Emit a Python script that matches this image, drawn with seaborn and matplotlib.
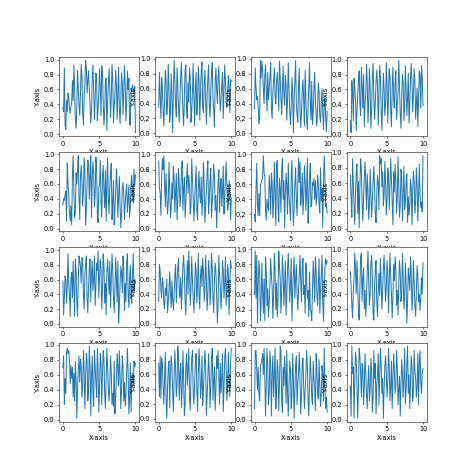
import matplotlib
matplotlib.use("Agg")
import matplotlib.pyplot as plt
import numpy as np
import seaborn as sns

# values, one list per panel (row by row)
y_r0c0 = [0.35,0.30,0.89,0.12,0.06,0.45,0.30,0.55,0.48,0.33,0.28,0.38,0.42,0.72,0.45,0.93,0.62,0.20,0.08,0.35,
          0.85,0.62,0.40,0.25,0.55,0.94,0.78,0.30,0.12,0.48,0.68,0.99,0.90,0.55,0.72,0.85,0.62,0.40,0.15,0.30,
          0.72,0.93,0.58,0.20,0.45,0.82,0.76,0.18,0.35,0.55,0.88,0.62,0.25,0.92,0.80,0.45,0.12,0.30,0.70,0.75,
          0.05,0.42,0.68,0.88,0.60,0.22,0.50,0.94,0.72,0.15,0.38,0.55,0.86,0.66,0.20,0.58,0.90,0.35,0.14,0.48,
          0.82,0.70,0.26,0.55,0.92,0.64,0.18,0.40,0.85,0.60,0.75,0.13,0.12,0.62,0.58,0.66,0.60,0.55,0.64,0.02]
y_r0c1 = [0.35,0.82,0.48,0.20,0.75,0.62,0.30,0.10,0.45,0.85,0.70,0.25,0.40,0.93,0.60,0.15,0.30,0.80,0.52,0.01,
          0.55,0.98,0.72,0.40,0.22,0.88,0.65,0.35,0.15,0.45,0.78,0.95,0.60,0.28,0.10,0.50,0.85,0.92,0.32,0.20,
          0.68,0.42,0.88,0.75,0.15,0.30,0.55,0.94,0.48,0.10,0.62,0.82,0.25,0.40,0.90,0.70,0.18,0.55,0.86,0.96,
          0.35,0.28,0.66,0.85,0.45,0.12,0.50,0.74,0.92,0.38,0.22,0.60,0.80,0.95,0.45,0.32,0.08,0.70,0.88,0.58,
          0.40,0.75,0.90,0.52,0.30,0.48,0.65,0.82,0.20,0.58,0.92,0.70,0.42,0.35,0.55,0.78,0.60,0.28,0.72,0.70]
y_r0c2 = [0.33,0.88,0.62,0.45,0.50,0.35,0.12,0.20,0.98,0.75,0.97,0.85,0.60,0.40,0.78,0.92,0.55,0.30,0.82,0.45,
          0.60,0.75,0.95,0.35,0.20,0.55,0.72,0.88,0.50,0.40,0.70,0.82,0.62,0.30,0.97,0.75,0.48,0.25,0.58,0.90,
          0.52,0.38,0.78,0.66,0.18,0.45,0.95,0.60,0.30,0.12,0.35,0.75,0.55,0.01,0.48,0.70,0.98,0.40,0.25,0.15,
          0.62,0.88,0.32,0.08,0.28,0.55,0.72,0.45,0.10,0.85,0.50,0.20,0.05,0.35,0.62,0.95,0.40,0.18,0.70,0.12,
          0.30,0.58,0.82,0.45,0.25,0.10,0.38,0.68,0.55,0.22,0.15,0.42,0.60,0.30,0.05,0.36,0.50,0.22,0.02,0.30]
y_r0c3 = [0.18,0.02,0.72,0.55,0.18,0.75,0.62,0.45,0.05,0.30,0.52,0.70,0.85,0.40,0.25,0.90,0.65,0.35,0.80,0.10,
          0.38,0.55,0.94,0.72,0.15,0.45,0.88,0.60,0.08,0.32,0.78,0.95,0.50,0.20,0.42,0.70,0.86,0.65,0.12,0.55,
          0.92,0.75,0.30,0.05,0.48,0.82,0.60,0.25,0.40,0.96,0.68,0.15,0.52,0.88,0.78,0.30,0.10,0.62,0.90,0.45,
          0.35,0.72,0.85,0.20,0.40,0.55,0.99,0.65,0.28,0.08,0.48,0.80,0.70,0.18,0.38,0.92,0.60,0.25,0.50,0.82,
          0.15,0.42,0.75,0.95,0.68,0.30,0.55,0.88,0.72,0.20,0.40,0.62,0.10,0.48,0.85,0.80,0.35,0.92,0.75,0.38]
y_r1c0 = [0.32,0.40,0.38,0.45,0.50,0.10,0.88,0.62,0.45,0.22,0.10,0.30,0.05,0.70,0.98,0.50,0.15,0.20,0.75,0.60,
          0.80,0.98,0.40,0.12,0.70,0.85,0.65,0.30,0.50,0.95,0.78,0.05,0.25,0.62,0.92,0.88,0.40,0.72,0.98,0.15,
          0.68,0.90,0.75,0.30,0.45,0.96,0.82,0.20,0.08,0.55,0.60,0.92,0.35,0.15,0.70,0.85,0.50,0.28,0.78,0.10,
          0.62,0.95,0.40,0.20,0.55,0.72,0.88,0.12,0.35,0.65,0.05,0.25,0.48,0.80,0.58,0.15,0.42,0.70,0.30,0.01,
          0.20,0.55,0.62,0.45,0.12,0.35,0.50,0.60,0.22,0.40,0.58,0.15,0.30,0.62,0.72,0.45,0.35,0.80,0.58,0.72]
y_r1c1 = [0.92,0.55,0.48,0.18,0.70,0.95,0.80,0.99,0.60,0.30,0.75,0.45,0.20,0.35,0.90,0.55,0.15,0.28,0.62,0.40,
          0.85,0.68,0.22,0.50,0.75,0.12,0.38,0.82,0.60,0.30,0.45,0.78,0.92,0.25,0.55,0.70,0.15,0.35,0.65,0.88,
          0.48,0.72,0.58,0.20,0.30,0.95,0.68,0.42,0.10,0.38,0.62,0.85,0.25,0.12,0.55,0.78,0.45,0.35,0.70,0.18,
          0.40,0.90,0.60,0.08,0.30,0.52,0.75,0.92,0.20,0.40,0.65,0.82,0.15,0.35,0.58,0.88,0.70,0.25,0.45,0.01,
          0.35,0.62,0.80,0.22,0.55,0.68,0.30,0.48,0.85,0.20,0.40,0.72,0.90,0.55,0.25,0.35,0.65,0.48,0.12,0.42]
y_r1c2 = [0.20,0.10,0.55,0.88,0.35,0.18,0.48,0.18,0.58,0.62,0.65,0.70,0.98,0.75,0.70,0.25,0.12,0.40,0.30,0.25,
          0.72,0.55,0.20,0.75,0.62,0.15,0.38,0.90,0.45,0.05,0.85,0.92,0.30,0.10,0.68,0.55,0.22,0.80,0.95,0.40,
          0.65,0.02,0.48,0.75,0.58,0.20,0.88,0.45,0.30,0.12,0.70,0.92,0.35,0.05,0.28,0.60,0.82,0.40,0.18,0.55,
          0.95,0.62,0.90,0.32,0.48,0.75,0.20,0.40,0.85,0.65,0.25,0.52,0.95,0.08,0.38,0.70,0.88,0.30,0.35,0.62,
          0.58,0.68,0.40,0.65,0.32,0.45,0.72,0.60,0.35,0.22,0.82,0.38,0.55,0.02,0.65,0.98,0.70,0.30,0.35,0.22]
y_r1c3 = [0.70,0.40,0.15,0.92,0.60,0.30,0.05,0.48,0.75,0.85,0.20,0.62,0.01,0.55,0.92,0.80,0.35,0.10,0.40,0.68,
          0.88,0.58,0.25,0.72,0.50,0.12,0.30,0.78,0.45,0.15,0.38,0.62,0.82,0.55,0.20,0.08,0.45,0.70,0.60,0.25,
          0.96,0.85,0.92,0.55,0.75,0.30,0.45,0.88,0.62,0.18,0.40,0.80,0.70,0.25,0.58,0.92,0.65,0.35,0.05,0.75,
          0.48,0.85,0.62,0.20,0.40,0.95,0.55,0.15,0.30,0.78,0.68,0.10,0.45,0.82,0.25,0.35,0.60,0.72,0.08,0.42,
          0.18,0.30,0.65,0.55,0.05,0.48,0.75,0.62,0.20,0.35,0.80,0.58,0.10,0.42,0.85,0.45,0.28,0.35,0.22,0.96]
y_r2c0 = [0.58,0.12,0.35,0.65,0.60,0.28,0.50,0.95,0.55,0.40,0.10,0.62,0.70,0.35,0.85,0.45,0.10,0.88,0.72,0.30,
          0.10,0.58,0.92,0.85,0.78,0.55,0.90,0.88,0.40,0.20,0.65,0.82,0.92,0.35,0.15,0.50,0.75,0.88,0.30,0.68,
          0.85,0.45,0.60,0.92,0.25,0.50,0.82,0.72,0.99,0.35,0.62,0.88,0.75,0.20,0.45,0.95,0.80,0.28,0.55,0.12,
          0.70,0.88,0.65,0.40,0.85,0.22,0.58,0.95,0.72,0.35,0.15,0.48,0.90,0.62,0.30,0.85,0.01,0.25,0.55,0.78,
          0.68,0.42,0.92,0.75,0.18,0.55,0.30,0.85,0.95,0.40,0.22,0.62,0.80,0.35,0.28,0.70,0.95,0.45,0.60,0.55]
y_r2c1 = [0.30,0.80,0.70,0.45,0.35,0.62,0.55,0.28,0.20,0.48,0.38,0.60,0.15,0.30,0.45,0.70,0.42,0.22,0.58,0.35,
          0.18,0.40,0.65,0.80,0.28,0.55,0.75,0.88,0.45,0.35,0.62,0.20,0.50,0.78,0.92,0.68,0.30,0.12,0.55,0.85,
          0.40,0.98,0.72,0.25,0.48,0.90,0.60,0.35,0.15,0.45,0.82,0.70,0.28,0.55,0.95,0.38,0.20,0.65,0.78,0.50,
          0.88,0.72,0.30,0.45,0.92,0.60,0.18,0.40,0.85,0.68,0.25,0.52,0.95,0.75,0.35,0.15,0.58,0.82,0.70,0.40,
          0.01,0.28,0.92,0.65,0.50,0.20,0.45,0.85,0.72,0.35,0.55,0.90,0.25,0.48,0.80,0.68,0.12,0.55,0.85,0.75]
y_r2c2 = [0.40,0.98,0.35,0.92,0.02,0.55,0.85,0.70,0.05,0.30,0.82,0.45,0.15,0.60,0.05,0.90,0.70,0.25,0.48,0.10,
          0.30,0.55,0.88,0.65,0.50,0.08,0.40,0.95,0.72,0.20,0.55,0.10,0.35,0.98,0.78,0.60,0.15,0.45,0.92,0.70,
          0.25,0.50,0.85,0.12,0.40,0.75,0.95,0.62,0.30,0.55,0.88,0.05,0.45,0.70,0.90,0.35,0.60,0.80,0.42,0.20,
          0.45,0.65,0.92,0.58,0.30,0.75,0.88,0.40,0.52,0.15,0.82,0.62,0.35,0.45,0.10,0.70,0.20,0.18,0.05,0.45,
          0.85,0.62,0.30,0.90,0.72,0.40,0.25,0.55,0.88,0.15,0.45,0.68,0.92,0.32,0.05,0.48,0.75,0.88,0.80,0.85]
y_r2c3 = [0.70,0.50,0.25,0.08,0.45,0.60,0.95,0.75,0.40,0.85,0.55,0.15,0.05,0.48,0.90,0.95,0.30,0.62,0.75,0.20,
          0.45,0.10,0.35,0.70,0.98,0.55,0.25,0.40,0.80,0.92,0.62,0.15,0.05,0.50,0.72,0.85,0.30,0.10,0.45,0.68,
          0.38,0.88,0.55,0.20,0.45,0.75,0.92,0.62,0.30,0.48,0.85,0.70,0.15,0.55,0.95,0.65,0.40,0.08,0.35,0.80,
          0.58,0.90,0.72,0.25,0.45,0.12,0.52,0.85,0.68,0.30,0.40,0.95,0.60,0.20,0.35,0.82,0.55,0.01,0.28,0.75,
          0.62,0.45,0.90,0.70,0.18,0.38,0.85,0.55,0.25,0.10,0.42,0.78,0.65,0.30,0.40,0.18,0.35,0.62,0.40,0.82]
y_r3c0 = [0.70,0.85,0.20,0.55,0.35,0.90,0.95,0.88,0.92,0.80,0.48,0.72,0.55,0.70,0.30,0.62,0.25,0.78,0.55,0.02,
          0.40,0.65,0.85,0.50,0.80,0.70,0.30,0.45,0.92,0.65,0.15,0.55,0.88,0.78,0.25,0.40,0.98,0.70,0.05,0.60,
          0.85,0.35,0.18,0.92,0.72,0.50,0.30,0.95,0.65,0.10,0.45,0.88,0.75,0.20,0.60,0.92,0.82,0.35,0.15,0.55,
          0.95,0.70,0.40,0.25,0.48,0.85,0.62,0.20,0.35,0.18,0.78,0.08,0.30,0.55,0.88,0.68,0.45,0.92,0.60,0.15,
          0.40,0.85,0.72,0.25,0.50,0.18,0.35,0.65,0.95,0.62,0.08,0.30,0.75,0.10,0.55,0.62,0.45,0.78,0.70,0.75]
y_r3c1 = [0.75,0.30,0.85,0.28,0.82,0.75,0.45,0.20,0.55,0.90,0.30,0.01,0.40,0.70,0.78,0.15,0.62,0.85,0.72,0.35,
          0.10,0.55,0.92,0.68,0.30,0.45,0.98,0.82,0.25,0.60,0.75,0.15,0.40,0.92,0.55,0.05,0.20,0.70,0.88,0.45,
          0.65,0.95,0.30,0.12,0.58,0.80,0.92,0.35,0.20,0.50,0.75,0.88,0.40,0.10,0.62,0.95,0.70,0.28,0.45,0.85,
          0.18,0.40,0.65,0.92,0.75,0.05,0.30,0.55,0.88,0.62,0.15,0.45,0.80,0.95,0.25,0.50,0.70,0.12,0.38,0.85,
          0.68,0.92,0.60,0.20,0.75,0.35,0.55,0.88,0.10,0.40,0.82,0.95,0.68,0.25,0.45,0.90,0.55,0.30,0.75,0.95]
y_r3c2 = [0.15,0.92,0.92,0.65,0.40,0.70,0.35,0.25,0.72,0.75,0.80,0.88,0.60,0.95,0.55,0.05,0.48,0.95,0.70,0.20,
          0.35,0.92,0.72,0.05,0.62,0.85,0.30,0.55,0.95,0.15,0.40,0.80,0.65,0.12,0.48,0.98,0.90,0.25,0.10,0.70,
          0.45,0.85,0.60,0.22,0.92,0.35,0.05,0.45,0.78,0.65,0.15,0.30,0.88,0.55,0.02,0.40,0.72,0.85,0.20,0.48,
          0.62,0.90,0.55,0.08,0.30,0.75,0.82,0.45,0.15,0.38,0.60,0.92,0.70,0.25,0.05,0.52,0.85,0.62,0.30,0.20,
          0.78,0.55,0.40,0.12,0.88,0.65,0.35,0.28,0.80,0.45,0.18,0.35,0.72,0.60,0.25,0.95,0.40,0.15,0.30,0.10]
y_r3c3 = [0.45,0.05,0.98,0.62,0.70,0.02,0.55,0.90,0.80,0.45,0.02,0.40,0.95,0.85,0.62,0.30,0.75,0.68,0.20,0.45,
          0.88,0.60,0.35,0.15,0.50,0.72,0.25,0.40,0.82,0.65,0.10,0.30,0.92,0.55,0.75,0.08,0.45,0.62,0.88,0.20,
          0.58,0.95,0.70,0.35,0.55,0.02,0.40,0.72,0.85,0.62,0.30,0.50,0.95,0.68,0.25,0.42,0.78,0.15,0.55,0.88,
          0.65,0.35,0.48,0.92,0.70,0.20,0.40,0.58,0.05,0.45,0.80,0.62,0.30,0.55,0.95,0.22,0.40,0.75,0.98,0.35,
          0.60,0.15,0.48,0.85,0.70,0.25,0.40,0.92,0.65,0.55,0.30,0.45,0.88,0.20,0.75,0.92,0.50,0.35,0.62,0.68]

panels = [y_r0c0, y_r0c1, y_r0c2, y_r0c3,
          y_r1c0, y_r1c1, y_r1c2, y_r1c3,
          y_r2c0, y_r2c1, y_r2c2, y_r2c3,
          y_r3c0, y_r3c1, y_r3c2, y_r3c3]

x_max = 10

fig, axes = plt.subplots(4, 4, figsize=(10, 10))

for ax, y in zip(axes.flat, panels):
    x = np.linspace(0, x_max, len(y))
    sns.lineplot(x=x, y=y, ax=ax)
    ax.set_xlabel('X-axis')
    ax.set_ylabel('Y-axis')

fig.savefig('out.png', dpi=47.4)
